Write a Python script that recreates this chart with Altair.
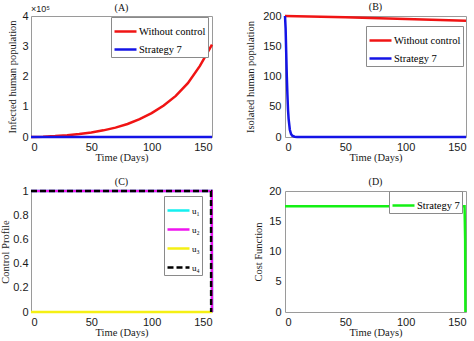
import altair as alt
import pandas as pd

# ---------------- data ----------------
# (A) infected humans
a_time = [0, 10, 20, 30, 40, 50, 60, 70, 80, 90, 100, 110, 120, 130, 140, 150]
a_without = [0, 1000, 3000, 6000, 10000, 15000, 22000, 31000, 43000, 59000,
             79000, 104000, 136000, 178000, 235000, 305000]
a_s7_time = [0, 150]
a_s7 = [0, 0]

# (B) isolated humans
b_without_time = [0, 50, 100, 150]
b_without = [200, 197.8, 195.2, 192.3]
b_s7_time = [0, 0.5, 1, 1.5, 2, 2.5, 3, 4, 5, 6, 8, 10, 150]
b_s7 = [200, 180, 140, 100, 70, 45, 30, 12, 5, 2, 0.5, 0, 0]

# (C) control profiles
c_u1_time = [0, 149.8, 150]
c_u1 = [1, 1, 0]
c_u2_time = [0, 149.8, 150]
c_u2 = [1, 1, 0]
c_u3_time = [0, 150]
c_u3 = [0, 0]
c_u4_time = [0, 149.2, 149.3]
c_u4 = [1, 1, 0]

# (D) cost function
d_time = [0, 148.8, 149.3, 149.5]
d_cost = [17.5, 17.5, 12, 0]

SERIES_A = ["Without control", "Strategy 7"]
SERIES_C = ["u\u2081", "u\u2082", "u\u2083", "u\u2084"]
SERIES_D = ["Strategy 7"]

RED = "#f01414"
BLUE = "#1414e6"
SANS = "Liberation Sans"
SERIF = "Liberation Serif"


def frame(pairs):
    rows = []
    for name, ts, vs in pairs:
        for i, (t, v) in enumerate(zip(ts, vs)):
            rows.append({"t": t, "v": v, "series": name, "ord": i})
    return pd.DataFrame(rows)


def legend(x, y, label_size=10.5, row_pad=0, sym=22):
    return alt.Legend(
        orient="none", legendX=x, legendY=y, title=None,
        strokeColor="#8a8a8a", fillColor="white", padding=2,
        labelFont=SERIF, labelFontSize=label_size, labelColor="#000",
        symbolType="stroke", symbolStrokeWidth=2.5, symbolSize=sym * sym,
        rowPadding=row_pad, labelOffset=1, labelLimit=200,
    )


def x_axis():
    return alt.X("t:Q", scale=alt.Scale(domain=[0, 150], nice=False),
                 axis=alt.Axis(values=[0, 50, 100, 150], title="Time (Days)",
                               labelPadding=4, titlePadding=0))


def title(s, off=-2):
    return alt.TitleParams(s, font=SERIF, fontSize=10, fontWeight="normal",
                           offset=off, frame="group", color="#111")


def lines(df, names, domain, rng, leg, y, dash=None):
    layers = []
    for n in names:
        enc = dict(
            x=x_axis(), y=y,
            color=alt.Color("series:N", scale=alt.Scale(domain=domain, range=rng), legend=leg),
            order="ord:Q",
        )
        if dash is not None:
            enc["strokeDash"] = alt.StrokeDash(
                "series:N", scale=alt.Scale(domain=domain, range=dash), legend=leg)
        layers.append(
            alt.Chart(df).transform_filter(alt.datum.series == n)
            .mark_line(strokeWidth=2.5, clip=False)
            .encode(**enc)
        )
    return layers


W, H = 181, 121

# ---- A ----
dfA = frame([("Without control", a_time, a_without), ("Strategy 7", a_s7_time, a_s7)])
yA = alt.Y("v:Q", scale=alt.Scale(domain=[0, 400000], nice=False),
           axis=alt.Axis(values=[0, 100000, 200000, 300000, 400000],
                         labelExpr="datum.value / 100000",
                         title="Infected human population", labelPadding=3, titlePadding=4))
expA = alt.Chart(pd.DataFrame({"lab": ["\u00d710\u2075"]})).mark_text(
    align="left", baseline="bottom", font=SANS, fontSize=9, color="#222"
).encode(x=alt.value(0), y=alt.value(-2), text="lab:N")
A = alt.layer(*lines(dfA, SERIES_A, SERIES_A, [RED, BLUE], legend(80, 1), yA), expA).properties(
    width=W, height=H, title=title("(A)", off=-7.5))

# ---- B ----
dfB = frame([("Without control", b_without_time, b_without), ("Strategy 7", b_s7_time, b_s7)])
yB = alt.Y("v:Q", scale=alt.Scale(domain=[0, 200], nice=False),
           axis=alt.Axis(values=[0, 50, 100, 150, 200],
                         title="Isolated human population", labelPadding=4, titlePadding=7))
B = alt.layer(*lines(dfB, SERIES_A, SERIES_A, [RED, BLUE], legend(81, 10), yB)).properties(
    width=W, height=H, title=title("(B)"))

# ---- C ----
dfC = frame([(SERIES_C[0], c_u1_time, c_u1), (SERIES_C[1], c_u2_time, c_u2),
             (SERIES_C[2], c_u3_time, c_u3), (SERIES_C[3], c_u4_time, c_u4)])
yC = alt.Y("v:Q", scale=alt.Scale(domain=[0, 1], nice=False),
           axis=alt.Axis(values=[0, 0.2, 0.4, 0.6, 0.8, 1], format="~g",
                         title="Control Profile", labelPadding=3, titlePadding=2))
C = alt.layer(*lines(dfC, SERIES_C, SERIES_C,
                     ["#14f0f0", "#f014f0", "#f5f014", "#000000"],
                     legend(133, 5, label_size=9, row_pad=1),
                     yC, dash=[[1, 0], [1, 0], [1, 0], [6, 3]])).properties(
    width=W, height=H, title=title("(C)"))

# ---- D ----
dfD = frame([("Strategy 7", d_time, d_cost)])
yD = alt.Y("v:Q", scale=alt.Scale(domain=[0, 20], nice=False),
           axis=alt.Axis(values=[0, 5, 10, 15, 20],
                         title="Cost Function", labelPadding=4, titlePadding=5))
D = alt.layer(*lines(dfD, SERIES_D, SERIES_D, ["#14f014"], legend(104, 0), yD)).properties(
    width=W, height=H, title=title("(D)"))

chart = alt.concat(A, B, C, D, columns=2, spacing={"row": 13, "column": 27}).resolve_scale(
    color="independent", strokeDash="independent", x="independent", y="independent"
).properties(
    padding={"left": 0, "top": 1, "right": 0, "bottom": 0}, background="white"
).configure_view(
    stroke="#9a9a9a", strokeWidth=1
).configure_axis(
    grid=False, domain=False, ticks=False,
    labelFont=SANS, labelFontSize=11, labelColor="#1a1a1a",
    titleFont=SERIF, titleFontSize=10.5, titleFontWeight="normal", titleColor="#1a1a1a",
).configure_legend(
    labelFont=SERIF, labelColor="#000"
)

chart.save("out.html", embed_options={"renderer": "svg", "actions": False})
